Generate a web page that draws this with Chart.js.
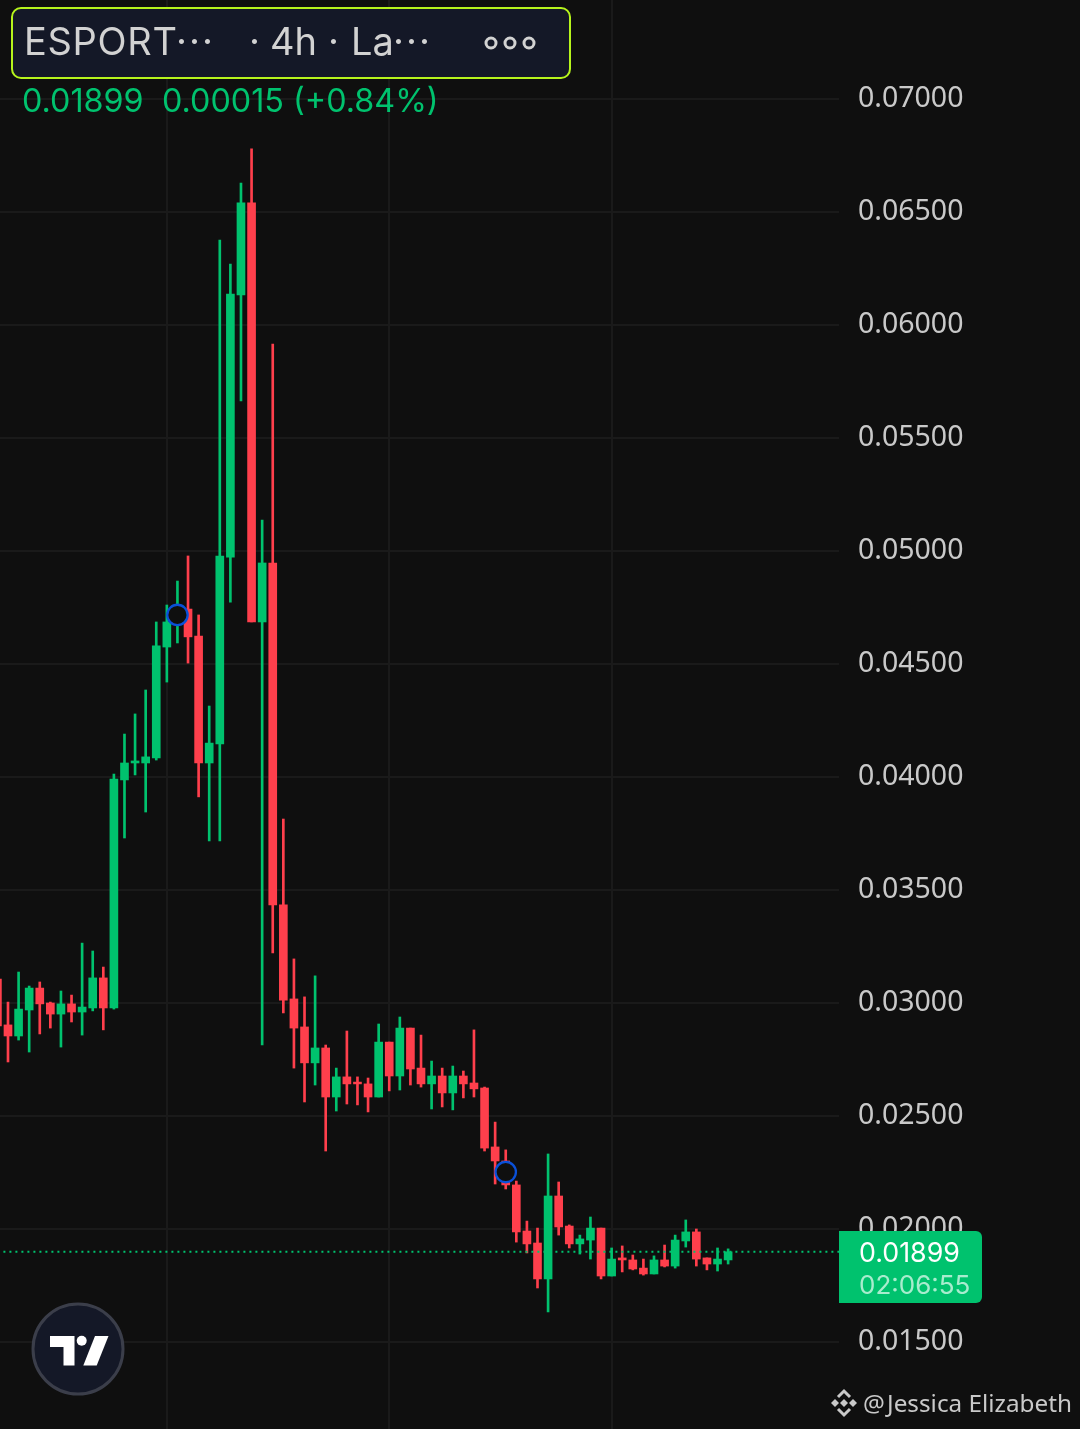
<!DOCTYPE html>
<html>
<head>
<meta charset="utf-8">
<title>ESPORT 4h</title>
<script src="https://cdn.jsdelivr.net/npm/chart.js@4/dist/chart.umd.js"></script>
<style>
  html, body { margin: 0; padding: 0; background: #0f0f0f; }
  #wrap { width: 1080px; height: 1429px; }
</style>
</head>
<body>
<div id="wrap"><canvas id="chart" width="1080" height="1429"></canvas></div>
<script>
// 4h candles
const opens = [0.03106,0.02903,0.02854,0.02969,0.03066,0.03000,0.02951,0.02996,0.02960,0.02978,
  0.03111,0.02978,0.03987,0.04062,0.04062,0.04084,0.04575,0.04686,0.04743,0.04624,
  0.04062,0.04146,0.04973,0.06133,0.06540,0.04686,0.04947,0.03434,0.03018,0.02894,
  0.02735,0.02801,0.02584,0.02673,0.02650,0.02642,0.02584,0.02827,0.02677,0.02889,
  0.02712,0.02642,0.02677,0.02602,0.02677,0.02646,0.02624,0.02363,0.02301,0.02195,
  0.01991,0.01938,0.01779,0.02146,0.02013,0.01934,0.01951,0.02004,0.01792,0.01872,
  0.01863,0.01827,0.01801,0.01863,0.01836,0.01947,0.01987,0.01872,0.01845,0.01863];
const highs = [0.03106,0.03004,0.03137,0.03075,0.03093,0.03004,0.03053,0.03035,0.03265,0.03230,
  0.03159,0.04013,0.04190,0.04279,0.04385,0.04686,0.04761,0.04867,0.04978,0.04717,
  0.04314,0.06376,0.06270,0.06628,0.06779,0.05137,0.05916,0.03814,0.03195,0.03027,
  0.03120,0.02814,0.02712,0.02876,0.02673,0.02668,0.02907,0.02827,0.02938,0.02889,
  0.02858,0.02743,0.02712,0.02721,0.02699,0.02881,0.02628,0.02473,0.02350,0.02212,
  0.02035,0.02004,0.02332,0.02208,0.02018,0.01973,0.02053,0.02004,0.01916,0.01925,
  0.01885,0.01867,0.01881,0.01929,0.01973,0.02040,0.02000,0.01872,0.01916,0.01912];
const lows = [0.02898,0.02739,0.02836,0.02783,0.02863,0.02889,0.02805,0.02916,0.02858,0.02965,
  0.02881,0.02973,0.03730,0.04009,0.03845,0.04075,0.04420,0.04593,0.04504,0.03912,
  0.03717,0.03717,0.04774,0.05664,0.04686,0.02814,0.03221,0.02956,0.02712,0.02562,
  0.02637,0.02345,0.02522,0.02553,0.02549,0.02518,0.02584,0.02611,0.02615,0.02637,
  0.02628,0.02531,0.02540,0.02527,0.02580,0.02584,0.02345,0.02199,0.02177,0.01942,
  0.01894,0.01739,0.01633,0.01973,0.01916,0.01889,0.01867,0.01779,0.01792,0.01810,
  0.01819,0.01796,0.01801,0.01832,0.01827,0.01920,0.01836,0.01819,0.01814,0.01845];
const closes = [0.02898,0.02854,0.02973,0.03066,0.02996,0.02951,0.02996,0.02960,0.02982,0.03111,
  0.02978,0.03991,0.04062,0.04071,0.04089,0.04580,0.04686,0.04748,0.04620,0.04062,
  0.04150,0.04978,0.06137,0.06540,0.04686,0.04947,0.03434,0.03013,0.02889,0.02735,
  0.02801,0.02584,0.02673,0.02642,0.02642,0.02584,0.02827,0.02677,0.02889,0.02708,
  0.02642,0.02677,0.02602,0.02677,0.02642,0.02620,0.02358,0.02301,0.02195,0.01987,
  0.01934,0.01779,0.02146,0.02009,0.01934,0.01956,0.02004,0.01792,0.01867,0.01863,
  0.01823,0.01801,0.01863,0.01836,0.01951,0.01987,0.01867,0.01845,0.01867,0.01899];

const yTicks = [0.015,0.02,0.025,0.03,0.035,0.04,0.045,0.05,0.055,0.06,0.065,0.07];
const timeGridAt = [16, 37, 58];     // candles that sit on a vertical grid line
const markerCandles = [17, 48];      // blue circle markers
const markerPrices = [0.04717, 0.02252];
const lastPrice = 0.01899;

const GREEN = '#00c26e';
const RED = '#ff3f4c';
const GRID = '#1a1a1a';
const TEXT = '#c9c9c9';
const BG = '#0f0f0f';

const candleColors = closes.map((c, i) => c >= opens[i] ? GREEN : RED);

// header box, last price tag, logo and watermark
const overlay = {
  id: 'overlay',
  afterDraw(chart) {
    const ctx = chart.ctx;
    ctx.save();
    ctx.textBaseline = 'alphabetic';
    ctx.textAlign = 'left';

    // title box
    ctx.beginPath();
    ctx.roundRect(12, 8, 558, 70, 9);
    ctx.fillStyle = '#141827';
    ctx.fill();
    ctx.lineWidth = 2;
    ctx.strokeStyle = '#b6f41c';
    ctx.stroke();

    ctx.fillStyle = '#d2d2d2';
    ctx.font = '38px Inter';
    ctx.letterSpacing = '0.7px';
    ctx.fillText('ESPORT', 24, 55);
    ctx.letterSpacing = '0px';
    ctx.fillText('4h', 270, 55);
    ctx.fillText('La', 351, 55);
    ctx.fillText('·', 249, 55);
    ctx.fillText('·', 328, 55);
    ctx.letterSpacing = '2px';
    ctx.fillText('···', 176, 55);
    ctx.fillText('···', 393, 55);
    ctx.letterSpacing = '0px';

    ctx.lineWidth = 3;
    ctx.strokeStyle = '#d2d2d2';
    [491, 510, 529].forEach(x => {
      ctx.beginPath();
      ctx.arc(x, 43, 5, 0, Math.PI * 2);
      ctx.stroke();
    });

    // last values
    ctx.fillStyle = GREEN;
    ctx.font = '32.3px Inter';
    ctx.fillText('0.01899', 22, 112);
    ctx.fillText('0.00015 (+0.84%)', 162, 112);

    // price tag
    ctx.beginPath();
    ctx.roundRect(839, 1231, 143, 72, [0, 6, 6, 0]);
    ctx.fillStyle = GREEN;
    ctx.fill();
    ctx.font = '26.8px Inter';
    ctx.fillStyle = '#ffffff';
    ctx.fillText('0.01899', 859, 1262);
    ctx.font = '26px Inter';
    ctx.fillStyle = '#a8ecce';
    ctx.fillText('02:06:55', 859, 1294);

    // TradingView logo
    ctx.beginPath();
    ctx.arc(78, 1349, 45, 0, Math.PI * 2);
    ctx.fillStyle = '#141827';
    ctx.fill();
    ctx.lineWidth = 3;
    ctx.strokeStyle = '#3b3e4a';
    ctx.stroke();
    ctx.fillStyle = '#ffffff';
    ctx.beginPath();
    ctx.moveTo(50, 1336); ctx.lineTo(74.5, 1336); ctx.lineTo(74.5, 1365.5);
    ctx.lineTo(63.5, 1365.5); ctx.lineTo(63.5, 1347); ctx.lineTo(50, 1347);
    ctx.closePath();
    ctx.fill();
    ctx.beginPath();
    ctx.arc(81.7, 1340.7, 5, 0, Math.PI * 2);
    ctx.fill();
    ctx.beginPath();
    ctx.moveTo(95, 1336); ctx.lineTo(108.5, 1336); ctx.lineTo(96.7, 1365.5); ctx.lineTo(83.3, 1365.5);
    ctx.closePath();
    ctx.fill();

    // watermark
    ctx.fillStyle = TEXT;
    const diamond = (x, y, r) => {
      ctx.beginPath();
      ctx.moveTo(x, y - r); ctx.lineTo(x + r, y); ctx.lineTo(x, y + r); ctx.lineTo(x - r, y);
      ctx.closePath();
      ctx.fill();
    };
    diamond(835, 1403, 4);
    diamond(853, 1403, 4);
    diamond(844, 1403, 4);
    ctx.lineWidth = 3;
    ctx.strokeStyle = TEXT;
    ctx.beginPath();
    ctx.moveTo(838, 1397); ctx.lineTo(844, 1391); ctx.lineTo(850, 1397);
    ctx.moveTo(838, 1409); ctx.lineTo(844, 1415); ctx.lineTo(850, 1409);
    ctx.stroke();
    ctx.font = '24.3px "Noto Sans"';
    ctx.fillText('@', 863, 1412);
    ctx.fillText('Jessica Elizabeth', 887, 1412);

    ctx.restore();
  }
};

new Chart(document.getElementById('chart'), {
  data: {
    datasets: [
      {
        type: 'scatter',
        order: 0,
        data: markerCandles.map((c, i) => ({ x: c, y: markerPrices[i] })),
        pointRadius: 10.2,
        pointBorderWidth: 2.3,
        pointBorderColor: '#0a50d8',
        pointBackgroundColor: BG
      },
      {
        type: 'line',
        order: 1,
        data: [{ x: 0, y: lastPrice }, { x: 80, y: lastPrice }],
        borderColor: GREEN,
        borderWidth: 2,
        borderDash: [2, 4],
        pointRadius: 0
      },
      {
        type: 'bar',
        order: 2,
        grouped: false,
        data: opens.map((o, i) => ({ x: i, y: [o, closes[i]] })),
        backgroundColor: candleColors,
        barThickness: 8,
        borderWidth: 0,
        borderSkipped: false
      },
      {
        type: 'bar',
        order: 3,
        grouped: false,
        data: lows.map((l, i) => ({ x: i, y: [l, highs[i]] })),
        backgroundColor: candleColors,
        barThickness: 2,
        borderWidth: 0,
        borderSkipped: false
      }
    ]
  },
  options: {
    responsive: false,
    animation: false,
    layout: { padding: 0, autoPadding: false },
    plugins: { legend: { display: false }, tooltip: { enabled: false } },
    scales: {
      x: {
        type: 'linear',
        offset: false,
        min: 0.245,
        max: 79.47,
        border: { display: false },
        grid: { color: GRID, lineWidth: 2, drawTicks: false, offset: false },
        ticks: { display: false },
        afterBuildTicks: axis => { axis.ticks = timeGridAt.map(v => ({ value: v })); },
        afterFit: axis => {
          axis.height = 0;
          axis.paddingLeft = 0;
          axis.paddingRight = 0;
        }
      },
      y: {
        type: 'linear',
        position: 'right',
        min: 0.01115,
        max: 0.07438,
        border: { display: false },
        grid: { color: GRID, lineWidth: 2, drawTicks: false },
        afterBuildTicks: axis => { axis.ticks = yTicks.map(v => ({ value: v })); },
        afterFit: axis => {
          axis.width = 241;
          axis.paddingTop = 0;
          axis.paddingBottom = 0;
        },
        ticks: {
          autoSkip: false,
          padding: 19,
          color: TEXT,
          font: { family: '"Noto Sans"', size: 28.5 },
          callback: v => v.toFixed(5)
        }
      }
    }
  },
  plugins: [overlay]
});
</script>
</body>
</html>
